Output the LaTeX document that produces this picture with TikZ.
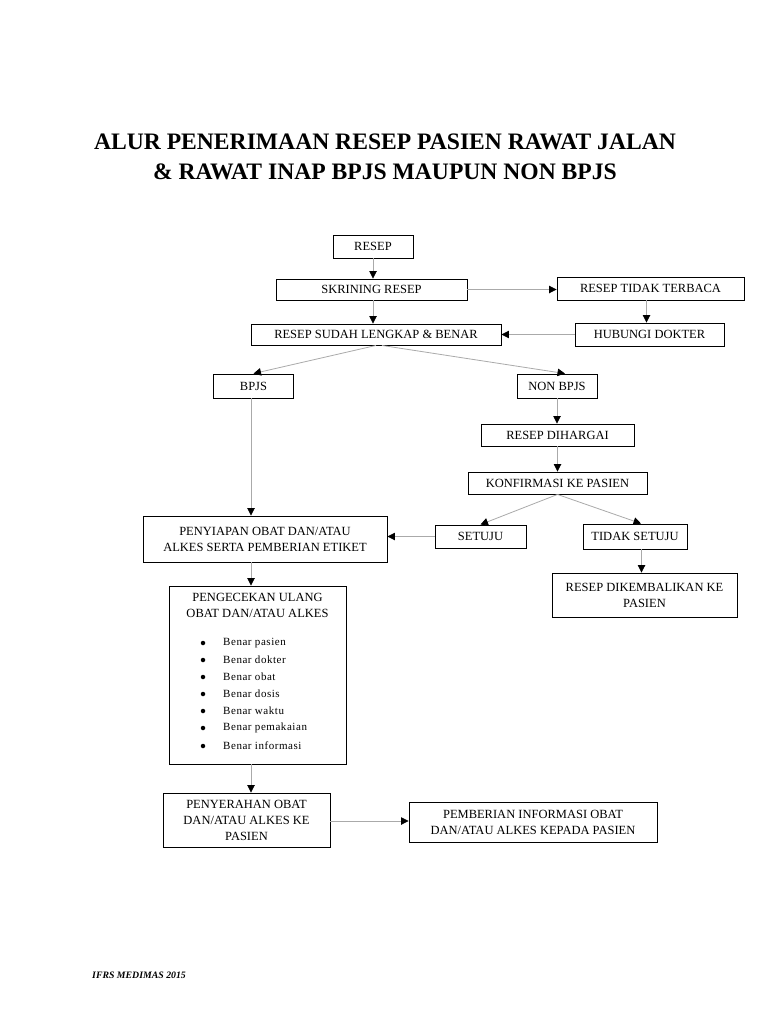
\documentclass[tikz,border=0pt]{standalone}
\usepackage{fontspec}
\setmainfont{Liberation Serif}
\newfontfamily\spacedserif[LetterSpace=5]{Liberation Serif}
\usetikzlibrary{arrows.meta,calc}
\definecolor{linegray}{RGB}{170,170,170}
\tikzset{
  box/.style={draw=black, line width=0.9pt, rectangle, inner sep=0pt, align=center,
    font=\fontsize{12.5}{16}\selectfont},
  flow/.style={draw=linegray, line width=0.8pt, -{Triangle[length=7.5pt,width=7.5pt,color=black]}},
  bul/.style={anchor=west, inner sep=0pt, font=\spacedserif\fontsize{11}{13}\selectfont},
  dot/.style={circle, fill=black, inner sep=0pt, minimum size=4.5pt}
}
\begin{document}
\begin{tikzpicture}[x=1pt,y=-1pt]
\useasboundingbox (0,0) rectangle (768,1024);
\fill[white] (0,0) rectangle (768,1024);

% title
\node[font=\fontsize{23.6}{30}\selectfont\bfseries, align=center] (title) at (385,157)
  {ALUR PENERIMAAN RESEP PASIEN RAWAT JALAN\\\& RAWAT INAP BPJS MAUPUN NON BPJS};

% boxes
\node[box, minimum width=80pt, minimum height=23pt] (resep) at (373,246.5) {RESEP};
\node[box, minimum width=191pt, minimum height=21pt] (skrining) at (371.5,289.5) {SKRINING RESEP};
\node[box, minimum width=187pt, minimum height=23pt] (tidak) at (650.5,288.5) {RESEP TIDAK TERBACA};
\node[box, minimum width=250pt, minimum height=21pt] (sudah) at (376,334.5) {RESEP SUDAH LENGKAP \& BENAR};
\node[box, minimum width=149pt, minimum height=23pt] (hubungi) at (649.5,334.5) {HUBUNGI DOKTER};
\node[box, minimum width=80pt, minimum height=24pt] (bpjs) at (253.5,386) {BPJS};
\node[box, minimum width=80pt, minimum height=24pt] (nonbpjs) at (557,386) {NON BPJS};
\node[box, minimum width=153pt, minimum height=22pt] (dihargai) at (557.5,435) {RESEP DIHARGAI};
\node[box, minimum width=179pt, minimum height=22pt] (konfirmasi) at (557.5,483) {KONFIRMASI KE PASIEN};
\node[box, minimum width=244pt, minimum height=46pt] (penyiapan) at (265,539)
  {PENYIAPAN OBAT DAN/ATAU\\ALKES SERTA PEMBERIAN ETIKET};
\node[box, minimum width=91pt, minimum height=23pt] (setuju) at (480.5,536.5) {SETUJU};
\node[box, minimum width=104pt, minimum height=25pt] (tidaksetuju) at (635,536.5) {TIDAK SETUJU};
\node[box, minimum width=185pt, minimum height=44pt] (kembali) at (644.5,595)
  {RESEP DIKEMBALIKAN KE\\PASIEN};
\node[box, minimum width=177pt, minimum height=178pt] (pengecekan) at (257.5,675) {};
\node[font=\fontsize{12.5}{16}\selectfont, align=center] (pengtitle) at (257.5,605)
  {PENGECEKAN ULANG\\OBAT DAN/ATAU ALKES};
\node[box, minimum width=167pt, minimum height=54pt] (penyerahan) at (246.5,820)
  {PENYERAHAN OBAT\\DAN/ATAU ALKES KE\\PASIEN};
\node[box, minimum width=248pt, minimum height=40pt] (pemberian) at (533,822)
  {PEMBERIAN INFORMASI OBAT\\DAN/ATAU ALKES KEPADA PASIEN};

% checklist
\node[dot] (d1) at (203,643) {}; \node[bul] (b1) at (223,643) {Benar pasien};
\node[dot] (d2) at (203,660) {}; \node[bul] (b2) at (223,660) {Benar dokter};
\node[dot] (d3) at (203,677) {}; \node[bul] (b3) at (223,677) {Benar obat};
\node[dot] (d4) at (203,694) {}; \node[bul] (b4) at (223,694) {Benar dosis};
\node[dot] (d5) at (203,711) {}; \node[bul] (b5) at (223,711) {Benar waktu};
\node[dot] (d6) at (203,728) {}; \node[bul] (b6) at (223,728) {Benar pemakaian};
\node[dot] (d7) at (203,746) {}; \node[bul] (b7) at (223,746) {Benar informasi};

% footer
\node[anchor=west, inner sep=0pt, font=\fontsize{9.8}{11}\selectfont\bfseries\itshape] (footer) at (92,975) {IFRS MEDIMAS 2015};

% connectors
\draw[flow] (resep.south) -- (resep.south |- skrining.north);
\draw[flow] (skrining.south -| resep.south) -- (resep.south |- sudah.north);
\draw[flow] (skrining.east) -- (tidak.west |- skrining.east);
\draw[flow] ($(hubungi.north |- tidak.south)+(-3,0)$) -- ($(hubungi.north)+(-3,0)$);
\draw[flow] (hubungi.west) -- (sudah.east);
\draw[flow] (sudah.south) -- (bpjs.north);
\draw[flow] ($(sudah.south)+(6,0)$) -- ($(nonbpjs.north)+(8,0)$);
\draw[flow] (nonbpjs.south) -- (nonbpjs.south |- dihargai.north);
\draw[flow] (dihargai.south) -- (konfirmasi.north);
\draw[flow] (konfirmasi.south) -- (setuju.north);
\draw[flow] (konfirmasi.south) -- ($(tidaksetuju.north)+(6,0)$);
\draw[flow] (bpjs.south -| 251,0) -- (251,0 |- penyiapan.north);
\draw[flow] (setuju.west) -- (setuju.west -| penyiapan.east);
\draw[flow] (tidaksetuju.south -| kembali.north) ++(-3,0) -- ($(kembali.north)+(-3,0)$);
\draw[flow] (penyiapan.south -| 251,0) -- (251,0 |- pengecekan.north);
\draw[flow] (pengecekan.south -| 251,0) -- (251,0 |- penyerahan.north);
\draw[flow] (penyerahan.east |- 0,821) -- (pemberian.west |- 0,821);
\end{tikzpicture}
\end{document}
